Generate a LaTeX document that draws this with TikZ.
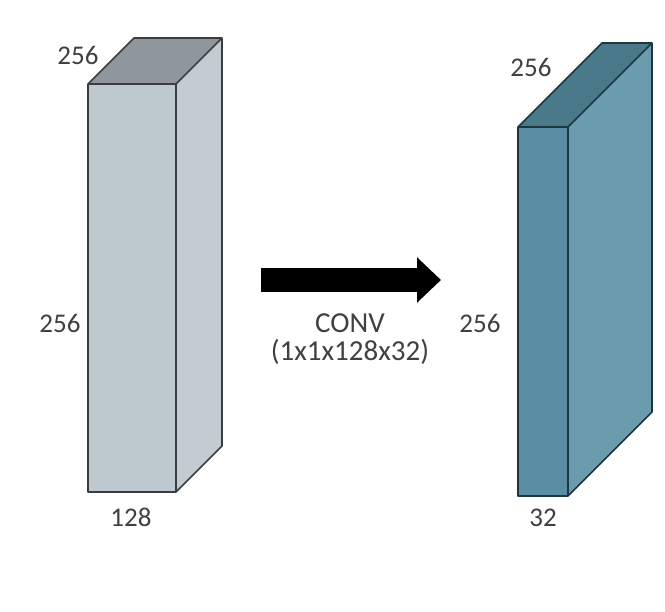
\documentclass[tikz,border=0pt]{standalone}
\usepackage{fontspec}
\setmainfont{Carlito}
\usepackage{xcolor}
\usepackage{tikz}
\usetikzlibrary{arrows.meta, positioning, calc}
\definecolor{inface}{HTML}{BDC9CF}
\definecolor{inside}{HTML}{C4CCD2}
\definecolor{intop}{HTML}{8F979D}
\definecolor{inedge}{HTML}{383D40}
\definecolor{outface}{HTML}{5A8EA4}
\definecolor{outside}{HTML}{6A9CAE}
\definecolor{outtop}{HTML}{4A7A8A}
\definecolor{outedge}{HTML}{1D3640}
\definecolor{labeltext}{HTML}{404040}
\tikzset{
    inbox/.style={draw=inedge, line width=1.6pt, line join=round},
    outbox/.style={draw=outedge, line width=1.6pt, line join=round},
    dimlabel/.style={font=\fontsize{27}{30}\selectfont, text=labeltext, anchor=base, inner sep=0pt},
    convlabel/.style={dimlabel, font=\fontsize{29}{32}\selectfont},
    convarr/.style={-{Triangle[length=24pt, width=44pt]}, line width=24pt, color=black},
}

\begin{document}
\begin{tikzpicture}[x=1pt, y=-1pt]

  \useasboundingbox (0,0) rectangle (665,612);

  % input volume 256x256x128
  \coordinate (i1) at (88,84);
  \coordinate (i2) at (176,84);
  \coordinate (i3) at (176,492);
  \coordinate (i4) at (88,492);
  \coordinate (i5) at (222,38);
  \coordinate (i6) at (222,446);
  \coordinate (i7) at (134,38);

  \fill[inside] (i2) -- (i5) -- (i6) -- (i3) -- cycle;
  \fill[intop] (i1) -- (i7) -- (i5) -- (i2) -- cycle;
  \fill[inface] (i1) rectangle (i3);
  \draw[inbox] (i1) -- (i7) -- (i5) -- (i6) -- (i3) -- (i4) -- cycle;
  \draw[inbox] (i1) -- (i2) -- (i5);
  \draw[inbox] (i2) -- (i3);

  % output volume 256x256x32
  \coordinate (o1) at (518,127);
  \coordinate (o2) at (568,127);
  \coordinate (o3) at (568,496);
  \coordinate (o4) at (518,496);
  \coordinate (o5) at (652,43);
  \coordinate (o6) at (652,412);
  \coordinate (o7) at (602,43);

  \fill[outside] (o2) -- (o5) -- (o6) -- (o3) -- cycle;
  \fill[outtop] (o1) -- (o7) -- (o5) -- (o2) -- cycle;
  \fill[outface] (o1) rectangle (o3);
  \draw[outbox] (o1) -- (o7) -- (o5) -- (o6) -- (o3) -- (o4) -- cycle;
  \draw[outbox] (o1) -- (o2) -- (o5);
  \draw[outbox] (o2) -- (o3);

  % the 1x1 convolution
  \coordinate (convfrom) at (261,280);
  \coordinate (convto) at (441,280);
  \draw[convarr] (convfrom) -- (convto);
  \node[convlabel] (conv) at (350,333) {CONV};
  \node[convlabel] (convsize) at (350,361) {(1x1x128x32)};

  % sizes
  \node[dimlabel] (indepth) at (78,65) {256};
  \node[dimlabel] (inheight) at (60,333) {256};
  \node[dimlabel] (inwidth) at (131,527) {128};
  \node[dimlabel] (outdepth) at (531,77) {256};
  \node[dimlabel] (outheight) at (480,333) {256};
  \node[dimlabel] (outwidth) at (543,527) {32};

\end{tikzpicture}
\end{document}
